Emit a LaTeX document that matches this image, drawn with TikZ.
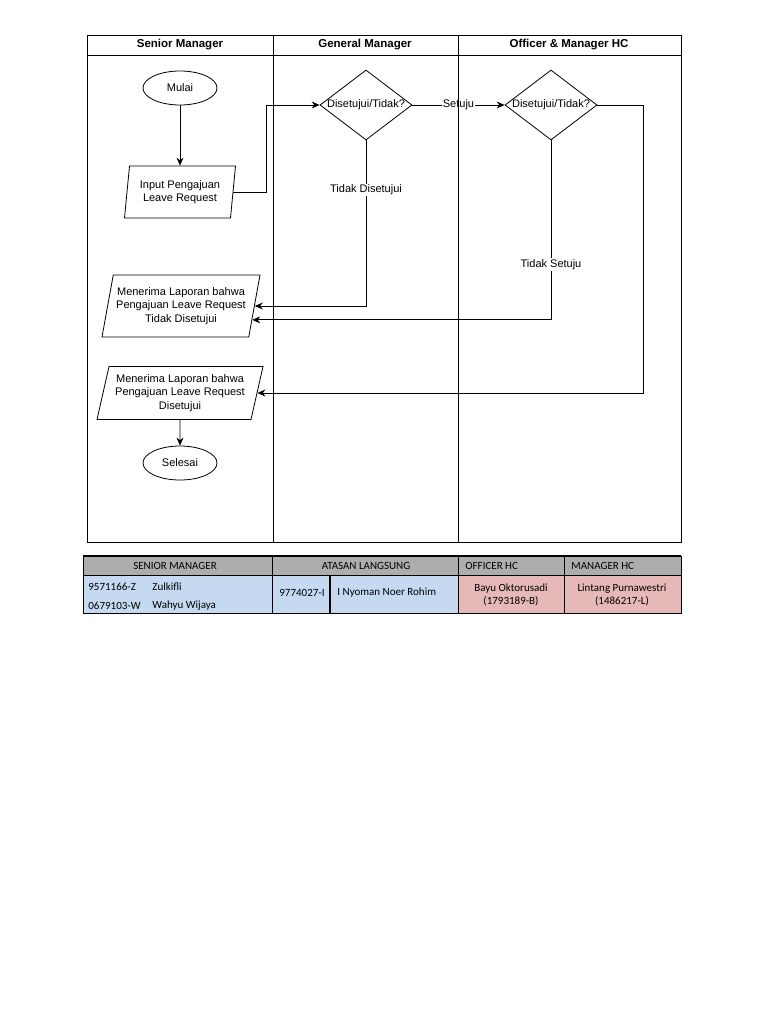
\documentclass[tikz,border=0pt]{standalone}
\usepackage{fontspec}
\setmainfont{Liberation Sans}
\newfontfamily\tabfont{Carlito}
\usetikzlibrary{shapes.geometric,arrows.meta}
\definecolor{hdrgray}{HTML}{ADADAD}
\definecolor{cellblue}{HTML}{C5D9F1}
\definecolor{cellpink}{HTML}{E6B9B8}
\begin{document}
\begin{tikzpicture}[x=1pt, y=-1pt, ->, >={Stealth[length=8pt,width=7pt]}, line width=0.8pt,
		font=\fontsize{11}{13.5}\selectfont,
		terminal/.style={draw, ellipse, minimum width=74pt, minimum height=34pt},
		io/.style={draw, trapezium, trapezium stretches body, align=center, inner sep=1pt},
		decision/.style={draw, diamond, aspect=1.31, inner sep=0pt, minimum width=92pt, minimum height=70pt},
		lbl/.style={fill=white, inner sep=1pt},
		cell/.style={font=\tabfont\fontsize{11}{13}\selectfont, inner sep=0pt}]
		\fill[white] (0,0) rectangle (768,1024);
		\node[font=\bfseries\fontsize{11.5}{13.5}\selectfont] (H_SM) at (180, 45) {Senior Manager};
		\node[font=\bfseries\fontsize{11.5}{13.5}\selectfont] (H_GM) at (365, 45) {General Manager};
		\node[font=\bfseries\fontsize{11.5}{13.5}\selectfont] (H_HC) at (569, 45) {Officer \& Manager HC};
		\node[terminal] (Mulai) at (180, 88) {Mulai};
		\node[io, trapezium left angle=79, trapezium right angle=101, minimum width=111pt, minimum height=52pt] (Input) at (180, 192) {Input Pengajuan\\Leave Request};
		\node[decision] (D_GM) at (366, 105) {Disetujui/Tidak?};
		\node[decision] (D_HC) at (551, 105) {Disetujui/Tidak?};
		\node[io, trapezium left angle=74, trapezium right angle=106, minimum width=158pt, minimum height=62pt] (Tolak) at (181, 306) {Menerima Laporan bahwa\\Pengajuan Leave Request\\Tidak Disetujui};
		\node[io, trapezium left angle=73, trapezium right angle=107, minimum width=166pt, minimum height=53pt] (Terima) at (180, 393) {Menerima Laporan bahwa\\Pengajuan Leave Request\\Disetujui};
		\node[terminal] (Selesai) at (180, 463) {Selesai};
		\draw (Mulai) -- (Input);
		\draw (Input.east) -- ++(33, 0) |- (D_GM.west);
		\draw (D_GM.east) -- node[lbl] {Setuju} (D_HC.west);
		\draw (D_GM.south) |- node[lbl, pos=0.15] {Tidak Disetujui} (Tolak.east);
		\draw (D_HC.south) |- node[lbl, pos=0.346] {Tidak Setuju} (Tolak.-11);
		\draw (D_HC.east) -- ++(46, 0) |- (Terima.east);
		\draw (Terima) -- (Selesai);
		\draw[-] (87, 35) rectangle (681, 542);
		\draw[-] (87, 55) -- (681, 55);
		\draw[-] (273, 35) -- (273, 542);
		\draw[-] (458, 35) -- (458, 542);
		\fill[hdrgray] (83, 556) rectangle (681, 575);
		\fill[cellblue] (83, 575) rectangle (458, 613);
		\fill[cellpink] (458, 575) rectangle (681, 613);
		\draw[-] (83, 556) rectangle (681, 613);
		\draw[-] (83, 575) -- (681, 575);
		\foreach \x in {272, 458, 564} \draw[-] (\x, 556) -- (\x, 613);
		\draw[-, line width=1.4pt] (330, 575) -- (330, 613);
		\draw[-, line width=1.6pt] (83, 556) -- (681, 556);
		\node[cell] (T_SM) at (175, 566) {SENIOR MANAGER};
		\node[cell] (T_AL) at (366, 566) {ATASAN LANGSUNG};
		\node[cell, anchor=west] (T_OF) at (465, 566) {OFFICER HC};
		\node[cell, anchor=west] (T_MH) at (571, 566) {MANAGER HC};
		\node[cell, anchor=west] (N_SM1) at (88, 587) {9571166-Z};
		\node[cell, anchor=west] (P_SM1) at (152, 587) {Zulkifli};
		\node[cell, anchor=west] (N_SM2) at (88, 606) {0679103-W};
		\node[cell, anchor=west] (P_SM2) at (152, 606) {Wahyu Wijaya};
		\node[cell, anchor=west] (N_AL) at (279, 593) {9774027-I};
		\node[cell, anchor=west] (P_AL) at (337, 593) {I Nyoman Noer Rohim};
		\node[cell, align=center] (P_OF) at (511, 595) {Bayu Oktorusadi\\(1793189-B)};
		\node[cell, align=center] (P_MH) at (622, 595) {Lintang Purnawestri\\(1486217-L)};
	\end{tikzpicture}
\end{document}
